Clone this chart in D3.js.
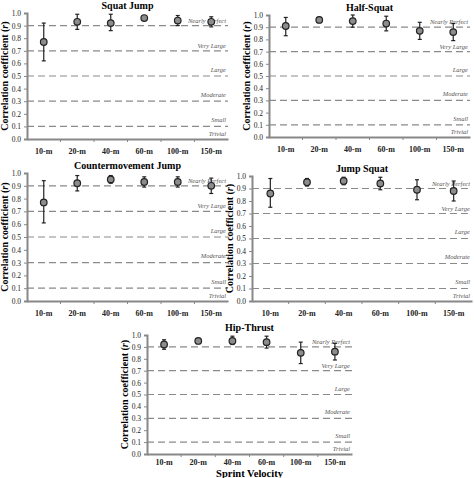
<!DOCTYPE html>
<html><head><meta charset="utf-8">
<script src="https://cdn.jsdelivr.net/npm/d3@7"></script>
<style>body{margin:0;background:#fff}</style>
</head><body>
<script>
// sprint distances and threshold labels
var cats = ["10-m","20-m","40-m","60-m","100-m","150-m"];
var yTicks = [0,0.1,0.2,0.3,0.4,0.5,0.6,0.7,0.8,0.9,1.0];
var thresholds = [0.1,0.3,0.5,0.7,0.9];
var zoneNames = ["Trivial","Small","Moderate","Large","Very Large","Nearly Perfect"];
var zonePos = [0.04,0.15,0.35,0.55,0.74,0.94];

// r values with lower / upper bounds
var sjR = [0.77,0.93,0.92,0.96,0.94,0.93];
var sjLo = [0.62,0.87,0.86,0.95,0.90,0.89];
var sjHi = [0.92,0.99,0.99,0.97,0.98,0.97];
var hsR = [0.91,0.96,0.95,0.93,0.87,0.86];
var hsLo = [0.83,0.95,0.90,0.87,0.80,0.79];
var hsHi = [0.98,0.98,1.00,0.99,0.94,0.93];
var cmjR = [0.77,0.92,0.95,0.93,0.93,0.90];
var cmjLo = [0.61,0.86,0.92,0.89,0.89,0.84];
var cmjHi = [0.94,0.98,0.98,0.97,0.97,0.96];
var jsR = [0.86,0.95,0.96,0.94,0.89,0.88];
var jsLo = [0.75,0.92,0.93,0.89,0.81,0.80];
var jsHi = [0.98,0.98,0.99,0.99,0.97,0.96];
var htR = [0.92,0.95,0.95,0.94,0.85,0.86];
var htLo = [0.88,0.94,0.92,0.89,0.76,0.79];
var htHi = [0.96,0.97,0.99,0.99,0.94,0.93];

var svg = d3.select("body").append("svg").attr("width",474).attr("height",478)
  .style("font-family","'Liberation Serif', serif");

var panels = [
  {title:"Squat Jump", r:sjR, lo:sjLo, hi:sjHi, x0:27, x1:228, y0:13, y1:139},
  {title:"Half-Squat", r:hsR, lo:hsLo, hi:hsHi, x0:269, x1:470, y0:15, y1:137},
  {title:"Countermovement Jump", r:cmjR, lo:cmjLo, hi:cmjHi, x0:27, x1:228, y0:173, y1:301},
  {title:"Jump Squat", r:jsR, lo:jsLo, hi:jsHi, x0:252, x1:472, y0:176, y1:301},
  {title:"Hip-Thrust", r:htR, lo:htLo, hi:htHi, x0:147, x1:352, y0:335, y1:454, xlab:"Sprint Velocity"}
];

panels.forEach(function(p) {
  var g = svg.append("g");
  var x = d3.scaleBand().domain(cats).range([p.x0,p.x1]);
  var y = d3.scaleLinear().domain([0,1]).range([p.y1,p.y0]);

  g.selectAll(".th").data(thresholds).enter().append("line")
    .attr("x1",p.x0).attr("x2",p.x1)
    .attr("y1",function(d){return y(d);}).attr("y2",function(d){return y(d);})
    .attr("stroke","#8a8a8a").attr("stroke-width",1.2).attr("stroke-dasharray","7,4");

  g.selectAll(".zn").data(zoneNames).enter().append("text")
    .attr("x",p.x1-2).attr("y",function(d,i){return y(zonePos[i])+2;})
    .attr("text-anchor","end").attr("font-size",6.5).attr("font-style","italic")
    .attr("fill","#555").text(function(d){return d;});

  var ya = g.append("g").attr("transform","translate("+p.x0+",0)")
    .call(d3.axisLeft(y).tickValues(yTicks).tickFormat(d3.format(".1f")).tickSize(3));
  var xa = g.append("g").attr("transform","translate(0,"+p.y1+")")
    .call(d3.axisBottom(x).tickSize(0).tickPadding(p.xlab ? 5 : 9));
  [ya,xa].forEach(function(a){
    a.select(".domain").attr("stroke","#888").attr("stroke-width",2);
    a.selectAll(".tick line").attr("stroke","#888");
    a.selectAll("text").attr("font-family","'Liberation Serif', serif").attr("fill","#222");
  });
  ya.selectAll("text").attr("font-size",7.5);
  xa.selectAll("text").attr("font-size",8).attr("font-weight","bold");
  // boundary ticks between categories
  g.selectAll(".bt").data(cats.slice(1)).enter().append("line")
    .attr("x1",function(d){return x(d);}).attr("x2",function(d){return x(d);})
    .attr("y1",p.y1).attr("y2",p.y1+3).attr("stroke","#888");

  var cx = function(d,i){return x(cats[i])+x.bandwidth()/2;};
  g.selectAll(".eb").data(p.r).enter().append("line")
    .attr("x1",cx).attr("x2",cx)
    .attr("y1",function(d,i){return y(p.lo[i]);}).attr("y2",function(d,i){return y(p.hi[i]);})
    .attr("stroke","#222").attr("stroke-width",1.2);
  [p.lo,p.hi].forEach(function(arr){
    g.selectAll(null).data(arr).enter().append("line")
      .attr("x1",function(d,i){return cx(d,i)-2;}).attr("x2",function(d,i){return cx(d,i)+2;})
      .attr("y1",function(d){return y(d);}).attr("y2",function(d){return y(d);})
      .attr("stroke","#222").attr("stroke-width",1.2);
  });
  g.selectAll(".pt").data(p.r).enter().append("circle")
    .attr("cx",cx).attr("cy",function(d){return y(d);}).attr("r",3.3)
    .attr("fill","#8c8c8c").attr("stroke","#222").attr("stroke-width",1.2);

  g.append("text").attr("x",(p.x0+p.x1)/2).attr("y",p.y0-4)
    .attr("text-anchor","middle").attr("font-size",10).attr("font-weight","bold")
    .text(p.title);

  var yl = g.append("text").attr("transform","translate("+(p.x0-19)+","+((p.y0+p.y1)/2)+") rotate(-90)")
    .attr("text-anchor","middle").attr("font-size",10).attr("font-weight","bold");
  yl.append("tspan").text("Correlation coefficient (");
  yl.append("tspan").attr("font-style","italic").text("r");
  yl.append("tspan").text(")");

  if (p.xlab) {
    g.append("text").attr("x",(p.x0+p.x1)/2).attr("y",p.y1+23)
      .attr("text-anchor","middle").attr("font-size",10.5).attr("font-weight","bold").text(p.xlab);
  }
});
</script>
</body></html>
